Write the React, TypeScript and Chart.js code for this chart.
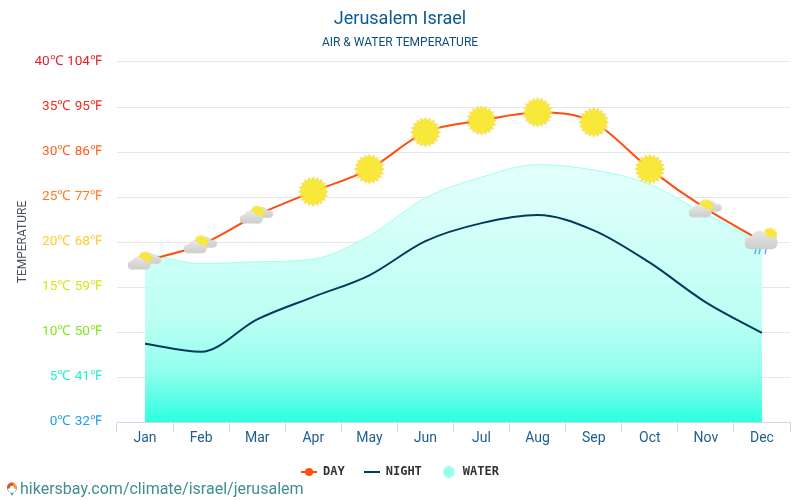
import React, { useEffect, useRef } from 'react'
import { Chart, registerables } from 'chart.js'

Chart.register(...registerables)

const months = ['Jan', 'Feb', 'Mar', 'Apr', 'May', 'Jun', 'Jul', 'Aug', 'Sep', 'Oct', 'Nov', 'Dec']
const dayTemps = [17.9, 19.7, 23, 25.6, 28.1, 32.2, 33.5, 34.4, 33.3, 28.1, 23.7, 20.1]
const nightTemps = [8.7, 7.8, 11.4, 13.9, 16.3, 20.1, 22.1, 23, 21.3, 17.7, 13.3, 9.9]
const waterTemps = [18.8, 17.6, 17.8, 18.1, 20.7, 24.9, 27.2, 28.6, 28, 26.4, 23.1, 20.1]
const weatherIcons = ['partly', 'partly', 'partly', 'sun', 'sun', 'sun', 'sun', 'sun', 'sun', 'sun', 'partly', 'rain']
const yTickLabels: Record<number, string> = {
  0: '0℃ 32℉',
  5: '5℃ 41℉',
  10: '10℃ 50℉',
  15: '15℃ 59℉',
  20: '20℃ 68℉',
  25: '25℃ 77℉',
  30: '30℃ 86℉',
  35: '35℃ 95℉',
  40: '40℃ 104℉',
}
const yTickColors: Record<number, string> = {
  0: '#1f9fe6',
  5: '#22f0cc',
  10: '#7fe81c',
  15: '#d8e41c',
  20: '#ffcb30',
  25: '#ff7a22',
  30: '#ff5f1c',
  35: '#f5281e',
  40: '#e8202a',
}

function makeCanvas(w: number, h: number) {
  const c = document.createElement('canvas')
  c.width = w
  c.height = h
  return c
}

function paintSun(g: CanvasRenderingContext2D, x: number, y: number, r: number, spike: number, n: number) {
  g.fillStyle = '#f6d84c'
  g.beginPath()
  for (let i = 0; i < n * 2; i++) {
    const a = (i * Math.PI) / n
    const rr = i % 2 === 0 ? r + spike : r
    g.lineTo(x + Math.cos(a) * rr, y + Math.sin(a) * rr)
  }
  g.closePath()
  g.fill()
  g.fillStyle = '#f8e83a'
  g.beginPath()
  g.arc(x, y, r + 0.5, 0, Math.PI * 2)
  g.fill()
}

function paintCloud(g: CanvasRenderingContext2D, x: number, y: number, s: number) {
  const shade = g.createLinearGradient(0, y - 6 * s, 0, y + 5 * s)
  shade.addColorStop(0, '#e6e6e4')
  shade.addColorStop(1, '#cccecc')
  g.fillStyle = shade
  g.beginPath()
  g.arc(x - 6.5 * s, y + 1 * s, 4 * s, 0, Math.PI * 2)
  g.arc(x - 1 * s, y - 1 * s, 5.5 * s, 0, Math.PI * 2)
  g.arc(x + 6.5 * s, y + 1 * s, 4 * s, 0, Math.PI * 2)
  g.fill()
  g.fillRect(x - 6.5 * s, y + 1 * s, 13 * s, 4 * s)
}

function sunIcon() {
  const c = makeCanvas(32, 32)
  paintSun(c.getContext('2d')!, 16, 16, 12, 3.5, 20)
  return c
}

function partlyIcon() {
  const c = makeCanvas(34, 22)
  const g = c.getContext('2d')!
  paintCloud(g, 23, 9, 0.95)
  paintSun(g, 17, 9, 6, 2, 16)
  paintCloud(g, 11, 14, 1.1)
  return c
}

function rainIcon() {
  const c = makeCanvas(34, 30)
  const g = c.getContext('2d')!
  paintSun(g, 25, 9, 6, 2, 16)
  paintCloud(g, 16, 15, 1.6)
  g.strokeStyle = '#4fb4ee'
  g.lineWidth = 1.5
  for (const x of [11, 15, 21]) {
    g.beginPath()
    g.moveTo(x, 23)
    g.lineTo(x - 1, 28)
    g.stroke()
  }
  return c
}

function lineMarker(color: string, dot: boolean) {
  const c = makeCanvas(16, 12)
  const g = c.getContext('2d')!
  g.fillStyle = color
  g.fillRect(0, 5, 16, 2)
  if (dot) {
    g.beginPath()
    g.arc(8, 6, 4, 0, Math.PI * 2)
    g.fill()
  }
  return c
}

function dotMarker(color: string) {
  const c = makeCanvas(14, 14)
  const g = c.getContext('2d')!
  g.fillStyle = color
  g.beginPath()
  g.arc(7, 7, 6, 0, Math.PI * 2)
  g.fill()
  return c
}

const footerPlugin = {
  id: 'footer',
  afterDraw(chart: Chart) {
    const g = chart.ctx
    g.save()
    // map pin in front of the url
    g.fillStyle = '#6f9aa0'
    g.beginPath()
    g.arc(12, 488, 5, 0, Math.PI)
    g.lineTo(12, 496)
    g.closePath()
    g.fill()
    g.fillStyle = '#f0a030'
    g.beginPath()
    g.arc(12, 487.5, 5, Math.PI, Math.PI * 2.1)
    g.closePath()
    g.fill()
    g.fillStyle = '#e0503a'
    g.beginPath()
    g.moveTo(12, 487.5)
    g.arc(12, 487.5, 5, Math.PI * 0.9, Math.PI * 1.6)
    g.closePath()
    g.fill()
    g.fillStyle = '#ffffff'
    g.beginPath()
    g.arc(12, 488, 2.2, 0, Math.PI * 2)
    g.fill()
    g.fillStyle = '#3f8f8c'
    g.font = '16px Roboto'
    g.textBaseline = 'middle'
    g.textAlign = 'left'
    g.fillText('hikersbay.com/climate/israel/jerusalem', 20, 490)
    g.restore()
  },
}

function App() {
  const chartRef = useRef<HTMLCanvasElement>(null)

  useEffect(() => {
    if (!chartRef.current) return
    const icons: Record<string, HTMLCanvasElement> = { sun: sunIcon(), partly: partlyIcon(), rain: rainIcon() }
    const chart = new Chart(chartRef.current, {
      type: 'line',
      plugins: [footerPlugin],
      data: {
        labels: months,
        datasets: [
          {
            label: 'DAY',
            data: dayTemps,
            borderColor: '#ff4e0d',
            borderWidth: 2,
            cubicInterpolationMode: 'monotone',
            pointStyle: weatherIcons.map((k) => icons[k]),
            pointRadius: 10,
            fill: false,
          },
          {
            label: 'NIGHT',
            data: nightTemps,
            borderColor: '#003b5c',
            borderWidth: 2,
            cubicInterpolationMode: 'monotone',
            pointRadius: 0,
            fill: false,
          },
          {
            label: 'WATER',
            data: waterTemps,
            borderColor: '#9dfff0',
            borderWidth: 1,
            cubicInterpolationMode: 'monotone',
            pointRadius: 0,
            fill: 'origin',
            backgroundColor: (ctx: any) => {
              const { chart: ch } = ctx
              if (!ch.chartArea) return '#b0fff0'
              const y = ch.scales.y
              const grad = ch.ctx.createLinearGradient(0, y.getPixelForValue(28.6), 0, y.getPixelForValue(0))
              grad.addColorStop(0, 'rgba(226,255,251,0.92)')
              grad.addColorStop(0.6, 'rgba(182,255,243,0.92)')
              grad.addColorStop(0.8, 'rgba(140,255,237,0.95)')
              grad.addColorStop(1, 'rgba(44,255,224,1)')
              return grad
            },
          },
        ],
      },
      options: {
        animation: false,
        responsive: false,
        devicePixelRatio: 1,
        layout: { autoPadding: false, padding: { left: 10, right: 10, top: 0, bottom: 12 } },
        scales: {
          x: {
            offset: true,
            afterFit: (s: any) => {
              s.height = 25
            },
            grid: { offset: true, drawOnChartArea: false, drawTicks: true, tickLength: 10, color: '#ccd6eb' },
            border: { color: '#ccd6eb' },
            ticks: { color: '#1d5e90', font: { family: 'Roboto', size: 14 }, padding: -2, maxRotation: 0 },
          },
          y: {
            min: 0,
            max: 40,
            afterFit: (s: any) => {
              s.width = 107
            },
            grid: { color: '#e6e6e6', drawTicks: false },
            border: { display: false },
            title: {
              display: true,
              text: 'TEMPERATURE',
              color: '#4a5260',
              font: { family: 'Roboto', size: 12 },
              padding: { top: 6, bottom: 0 },
            },
            ticks: {
              stepSize: 5,
              padding: 15,
              font: { family: 'Roboto', size: 13.6 },
              color: (c: any) => yTickColors[c.tick.value],
              callback: (v: any) => yTickLabels[v],
            },
          },
        },
        plugins: {
          title: {
            display: true,
            text: 'Jerusalem Israel',
            color: '#0a5a94',
            font: { family: 'Roboto', size: 18, weight: 'normal' },
            padding: { top: 9, bottom: 5 },
          },
          subtitle: {
            display: true,
            text: 'AIR & WATER TEMPERATURE',
            color: '#0d4f7c',
            font: { family: 'Roboto', size: 12, weight: 'normal' },
            padding: { top: 0, bottom: 12 },
          },
          legend: {
            position: 'bottom',
            labels: {
              usePointStyle: true,
              pointStyleWidth: 16,
              padding: 19,
              color: '#333333',
              font: { family: 'DejaVu Sans Mono', size: 12, weight: 'bold' },
              generateLabels: () => [
                { text: 'DAY', pointStyle: lineMarker('#ff4e0d', true), datasetIndex: 0, fontColor: '#333333', lineWidth: 0, strokeStyle: 'transparent' },
                { text: 'NIGHT', pointStyle: lineMarker('#003b5c', false), datasetIndex: 1, fontColor: '#333333', lineWidth: 0, strokeStyle: 'transparent' },
                { text: 'WATER', pointStyle: dotMarker('#9bffee'), datasetIndex: 2, fontColor: '#333333', lineWidth: 0, strokeStyle: 'transparent' },
              ],
            },
          },
          tooltip: { enabled: false },
        },
      },
    } as any)
    return () => {
      chart.destroy()
    }
  }, [])

  return (
    <div style={{ position: 'fixed', left: 0, top: 0, width: 800, height: 500 }}>
      <canvas ref={chartRef} width={800} height={500} />
    </div>
  )
}

export default App
